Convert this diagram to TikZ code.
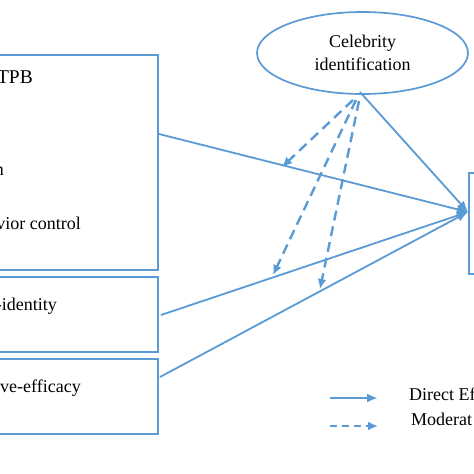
\documentclass[tikz,border=0pt]{standalone}
\usepackage{fontspec}
\setmainfont{Liberation Serif}
\usetikzlibrary{shapes.geometric,arrows.meta}
\definecolor{lblue}{RGB}{91,155,213}
\begin{document}
\begin{tikzpicture}[x=1pt,y=-1pt,
  boxst/.style={draw=lblue,line width=1.9pt,rectangle,inner sep=0pt},
  txt/.style={inner sep=0pt,font=\fontsize{18}{23}\selectfont},
  direct/.style={draw=lblue,line width=1.8pt,-{Latex[length=11pt,width=9pt]}},
  moder/.style={draw=lblue,line width=2.4pt,dash pattern=on 10pt off 6pt,-{Latex[length=10pt,width=9pt]}}]
\useasboundingbox (0,0) rectangle (474,474);
\clip (0,0) rectangle (474,474);
\fill[white] (0,0) rectangle (474,474);
% boxes
\node[boxst,minimum width=200pt,minimum height=215pt,anchor=north east] (tpb) at (159,54) {};
\node[boxst,minimum width=200pt,minimum height=75pt,anchor=north east] (sid) at (159,276) {};
\node[boxst,minimum width=200pt,minimum height=75pt,anchor=north east] (eff) at (159,358) {};
\node[boxst,minimum width=40pt,minimum height=101pt,anchor=north west] (out) at (468,172) {};
\node[draw=lblue,line width=1.7pt,ellipse,minimum width=211pt,minimum height=82pt,inner sep=0pt,align=center,font=\fontsize{18}{23}\selectfont] (cel) at (362.5,53) {Celebrity\\identification};
% texts
\node[txt,anchor=base east,font=\fontsize{19.5}{23}\selectfont] (t1) at (33,83) {TPB};
\node[txt,anchor=base east] (t2) at (4,175) {n};
\node[txt,anchor=base east] (t3) at (81,229) {vior control};
\node[txt,anchor=base east] (t4) at (57,310) {-identity};
\node[txt,anchor=base east] (t5) at (81,392) {ve-efficacy};
\node[txt,anchor=base west] (l1) at (409,400) {Direct Ef};
\node[txt,anchor=base west] (l2) at (411,425) {Moderat};
% connector points
\coordinate (tip) at (468,212);
\coordinate (s1) at (159,134);
\coordinate (s2) at (161,315);
\coordinate (s3) at (160,377);
\coordinate (s4) at (360,92);
\coordinate (d0a) at (353,100);
\coordinate (d0b) at (356,100);
\coordinate (d0c) at (359,101);
\coordinate (e1) at (282,167);
\coordinate (e2) at (273,275);
\coordinate (e3) at (320,289);
\coordinate (ls1) at (330,398);
\coordinate (le1) at (378,398);
\coordinate (ls2) at (330,426);
\coordinate (le2) at (378,426);
% direct effects
\draw[direct] (s1) -- (tip);
\draw[direct] (s2) -- (tip);
\draw[direct] (s3) -- (tip);
\draw[direct] (s4) -- (tip);
% moderating effects
\draw[moder] (d0a) -- (e1);
\draw[moder] (d0b) -- (e2);
\draw[moder] (d0c) -- (e3);
% legend
\draw[direct,line width=2.4pt] (ls1) -- (le1);
\draw[moder,dash pattern=on 7pt off 5pt] (ls2) -- (le2);
\end{tikzpicture}
\end{document}
